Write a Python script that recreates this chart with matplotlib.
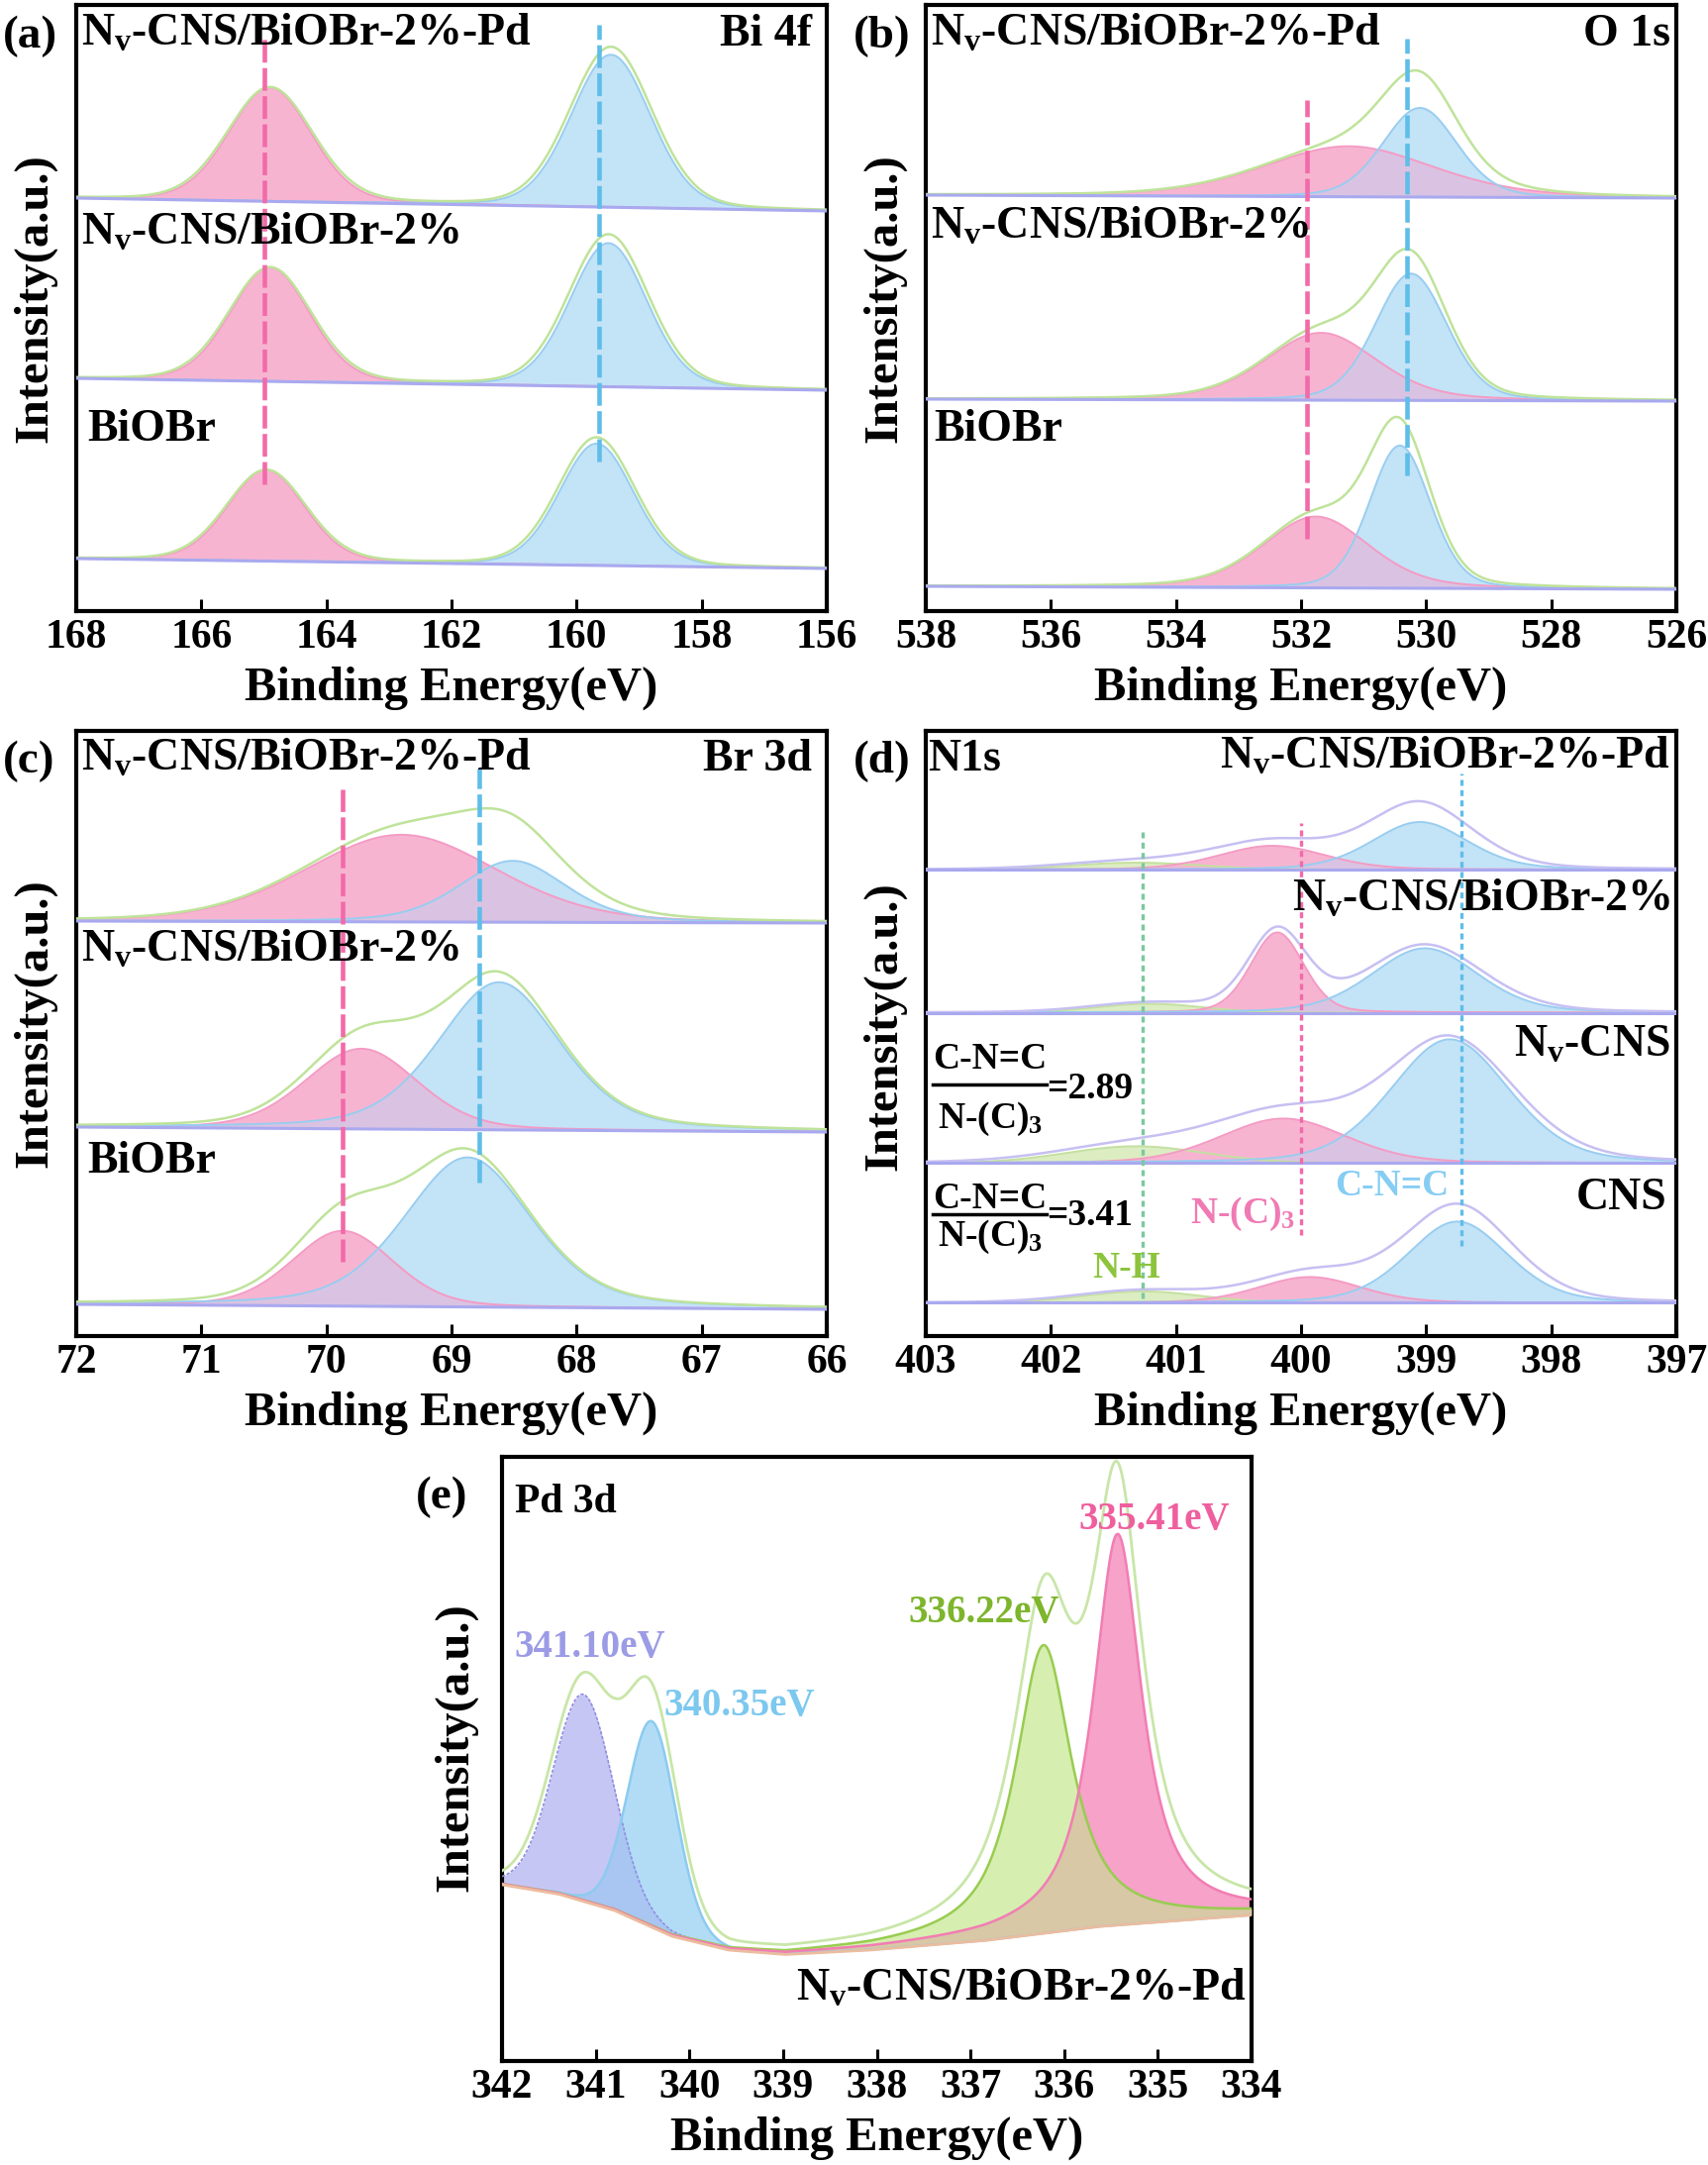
import numpy as np
import matplotlib
matplotlib.use("Agg")
import matplotlib.pyplot as plt
from matplotlib.lines import Line2D

plt.rcParams['font.family'] = ['Liberation Serif', 'DejaVu Serif']
plt.rcParams['font.weight'] = 'bold'
plt.rcParams['mathtext.fontset'] = 'custom'
plt.rcParams['mathtext.rm'] = 'Liberation Serif:bold'
plt.rcParams['mathtext.bf'] = 'Liberation Serif:bold'
plt.rcParams['mathtext.it'] = 'Liberation Serif:bold:italic'

W, H = 1725, 2186

S_PD = "N$_{\\rm v}$-CNS/BiOBr-2%-Pd"
S_2 = "N$_{\\rm v}$-CNS/BiOBr-2%"
S_NV = "N$_{\\rm v}$-CNS"

# ---------------- (a) Bi 4f ----------------
a_xlim = (168, 156)
a_ticks = [168, 166, 164, 162, 160, 158, 156]
a_base_left = [417, 235, 53]
a_base_right = [404, 223, 43]
a_pink_c = [164.90, 164.90, 164.96]
a_pink_h = [115, 115, 92]
a_pink_w = [1.55, 1.5, 1.45]
a_blue_c = [159.45, 159.49, 159.68]
a_blue_h = [154, 145, 123]
a_blue_w = [1.5, 1.45, 1.4]
a_env_gain = [[1.0, 1.05], [1.0, 1.06], [1.0, 1.05]]
a_guides = [(164.99, 128, 580, '#f26aa9'), (159.64, 151, 592, '#5fbde9')]

# ---------------- (b) O 1s ----------------
b_xlim = (538, 526)
b_ticks = [538, 536, 534, 532, 530, 528, 526]
b_base_left = [420, 214, 25]
b_base_right = [417, 212, 22]
b_pink_c = [531.24, 531.68, 531.76]
b_pink_h = [51, 68, 72]
b_pink_w = [3.2, 2.1, 2.0]
b_blue_c = [530.10, 530.24, 530.42]
b_blue_h = [90, 128, 144]
b_blue_w = [1.4, 1.35, 1.15]
b_env_gain = [[1.0, 1.02], [1.0, 1.03], [1.0, 1.04]]
b_guides = [(531.9, 73, 516, '#f26aa9'), (530.3, 137, 578, '#5fbde9')]

# ---------------- (c) Br 3d ----------------
c_xlim = (72, 66)
c_ticks = [72, 71, 70, 69, 68, 67, 66]
c_base_left = [419, 211, 32]
c_base_right = [417, 206, 27]
c_pink_c = [69.40, 69.72, 69.87]
c_pink_h = [88, 81, 76]
c_pink_w = [1.8, 1.05, 0.95]
c_blue_c = [68.51, 68.62, 68.87]
c_blue_h = [62, 149, 151]
c_blue_w = [1.0, 1.15, 1.2]
c_env_gain = [[1.02, 1.02], [1.03, 1.03], [1.02, 1.02]]
c_guides = [(69.87, 75, 552, '#f26aa9'), (68.78, 155, 573, '#5fbde9')]

# ---------------- (d) N 1s ----------------
d_xlim = (403, 397)
d_ticks = [403, 402, 401, 400, 399, 398, 397]
d_base_left = [471, 326.5, 174.6, 33.6]
d_base_right = [471, 326.5, 174.6, 33.6]
d_green_c = [401.32, 401.21, 401.32, 401.27]
d_green_h = [7, 9, 17, 11.5]
d_green_w = [1.2, 1.0, 1.3, 1.1]
d_pink_c = [400.23, 400.19, 400.14, 399.93]
d_pink_h = [24, 81, 45, 26]
d_pink_w = [1.0, 0.5, 1.18, 0.96]
d_blue_c = [399.05, 399.01, 398.81, 398.75]
d_blue_h = [48, 65, 125, 82]
d_blue_w = [0.9, 1.0, 1.11, 0.94]
d_env_gain = [[1.1, 1.12, 1.4], [1.0, 1.0, 1.05], [1.0, 1.05, 1.0], [1.0, 1.1, 1.2]]
d_guides = [(401.27, 38, 509, '#7cc8a0'), (400.0, 102, 518, '#f26aa9'), (398.72, 91, 568, '#5fbde9')]

# ---------------- (e) Pd 3d ----------------
e_xlim = (342, 334)
e_ticks = [342, 341, 340, 339, 338, 337, 336, 335, 334]
e_bg_e = [342.0, 341.4, 340.8, 340.19, 339.58, 338.98, 338.07, 336.85, 335.64, 334.0]
e_bg_y = [178, 168.6, 152, 126, 112, 107.5, 112, 121.6, 135.7, 147.4]
e_peak_c = [341.13, 340.40, 336.22, 335.43]
e_peak_h = [209, 208, 291, 395]
e_peak_w = [0.76, 0.61, 0.72, 0.62]
e_peak_eta = [0.1, 0.1, 0.9, 0.9]
e_peak_lab = ["341.10eV", "340.35eV", "336.22eV", "335.41eV"]
e_fill = ['#c6c6f4', '#b2dcf6', '#d6eeb0', '#f6a2c9']
e_edge = ['#8f8fe0', '#8ccbef', '#98cc50', '#f27db3']
e_lab_col = ['#9b9be6', '#7cc8ef', '#7db52c', '#ef5f9e']

PINK_FILL, PINK_EDGE = '#f7b4d1', '#f49bc4'
BLUE_FILL, BLUE_EDGE = '#c3e3f7', '#98cdf0'
GREEN_FILL, GREEN_EDGE = '#dcedc2', '#c4e0a0'
PB_OVER = '#dac3e2'
ENV_GREEN = '#bfe39a'
ENV_LAV = '#c6c0f2'
BASE_LAV = '#a9a9ef'


def pv(x, c, h, w, eta):
    u = (x - c) / w
    return h * (eta / (1 + 4 * u ** 2) + (1 - eta) * np.exp(-4 * np.log(2) * u ** 2))


def stack(ax, xlim, base_l, base_r, comps, gains, widen, env_color):
    x = np.linspace(xlim[0], xlim[1], 800)
    for i in range(len(base_l)):
        base = base_l[i] + (base_r[i] - base_l[i]) * (x - xlim[0]) / (xlim[1] - xlim[0])
        ys = []
        env = base.copy()
        for j, cp in enumerate(comps):
            ys.append(pv(x, cp['c'][i], cp['h'][i], cp['w'][i], cp['eta']))
            env = env + gains[i][j] * pv(x, cp['c'][i], cp['h'][i], cp['w'][i] * widen, cp['eta'])
        for y, cp in zip(ys, comps):
            ax.fill_between(x, base, base + y, color=cp['fill'], lw=0, zorder=2)
        if len(ys) >= 2:
            ax.fill_between(x, base, base + np.minimum(ys[-1], ys[-2]), color=PB_OVER, lw=0, zorder=3)
        for y, cp in zip(ys, comps):
            ax.plot(x, base + y, color=cp['edge'], lw=1.4, zorder=4)
        ax.plot(x, env, color=env_color, lw=1.8, zorder=5)
        ax.plot(x, base, color=BASE_LAV, lw=2.2, zorder=6)


def guides(ax, lines, ls, lw):
    for gx, y0, y1, col in lines:
        ax.plot([gx, gx], [y0, y1], color=col, ls=ls, lw=lw, zorder=7)


def style(ax, xlim, ticks, ytop, ylab_y):
    ax.set_xlim(xlim)
    ax.set_ylim(0, ytop)
    ax.set_xticks(ticks)
    ax.set_xticklabels([str(t) for t in ticks])
    ax.set_yticks([])
    ax.tick_params(axis='x', direction='in', length=9, width=2.2, labelsize=30, pad=6)
    for s in ax.spines.values():
        s.set_linewidth(3)
    ax.set_xlabel('Binding Energy(eV)', fontsize=35, fontweight='bold')
    ax.set_ylabel('Intensity(a.u.)', fontsize=35, fontweight='bold')
    ax.xaxis.set_label_coords(0.5, -0.091)
    ax.yaxis.set_label_coords(-0.026, ylab_y)


fig = plt.figure(figsize=(W / 100, H / 100), dpi=100)


def axes_px(x0, y0, x1, y1):
    return fig.add_axes([x0 / W, 1 - y1 / H, (x1 - x0) / W, (y1 - y0) / H])


def ftext(px, py, s, ha='left', size=33, color='black'):
    fig.text(px / W, 1 - py / H, s, ha=ha, va='baseline', fontsize=size,
             color=color, fontweight='bold')


# (a)
ax_a = axes_px(77, 5, 835, 617)
stack(ax_a, a_xlim, a_base_left, a_base_right,
      [dict(c=a_pink_c, h=a_pink_h, w=a_pink_w, eta=0.15, fill=PINK_FILL, edge=PINK_EDGE),
       dict(c=a_blue_c, h=a_blue_h, w=a_blue_w, eta=0.15, fill=BLUE_FILL, edge=BLUE_EDGE)],
      a_env_gain, 1.04, ENV_GREEN)
guides(ax_a, a_guides, (0, (5, 1.2)), 3.3)
style(ax_a, a_xlim, a_ticks, 612, 0.516)
ftext(3, 48, "(a)", size=34)
ftext(82, 46, S_PD)
ftext(820, 46, "Bi 4f", ha='right')
ftext(82, 247, S_2)
ftext(88, 445, "BiOBr")

# (b)
ax_b = axes_px(935, 5, 1693, 617)
stack(ax_b, b_xlim, b_base_left, b_base_right,
      [dict(c=b_pink_c, h=b_pink_h, w=b_pink_w, eta=0.3, fill=PINK_FILL, edge=PINK_EDGE),
       dict(c=b_blue_c, h=b_blue_h, w=b_blue_w, eta=0.2, fill=BLUE_FILL, edge=BLUE_EDGE)],
      b_env_gain, 1.0, ENV_GREEN)
guides(ax_b, b_guides, (0, (5, 1.2)), 3.3)
style(ax_b, b_xlim, b_ticks, 612, 0.516)
ftext(862, 48, "(b)", size=34)
ftext(940, 46, S_PD)
ftext(1687, 46, "O 1s", ha='right')
ftext(940, 241, S_2)
ftext(943, 445, "BiOBr")

# (c)
ax_c = axes_px(77, 738, 835, 1349)
stack(ax_c, c_xlim, c_base_left, c_base_right,
      [dict(c=c_pink_c, h=c_pink_h, w=c_pink_w, eta=0.2, fill=PINK_FILL, edge=PINK_EDGE),
       dict(c=c_blue_c, h=c_blue_h, w=c_blue_w, eta=0.35, fill=BLUE_FILL, edge=BLUE_EDGE)],
      c_env_gain, 1.0, ENV_GREEN)
guides(ax_c, c_guides, (0, (5, 1.2)), 3.3)
style(ax_c, c_xlim, c_ticks, 611, 0.517)
ftext(3, 780, "(c)", size=34)
ftext(82, 778, S_PD)
ftext(820, 778, "Br 3d", ha='right')
ftext(82, 971, S_2)
ftext(88, 1184, "BiOBr")

# (d)
ax_d = axes_px(935, 738, 1693, 1349)
stack(ax_d, d_xlim, d_base_left, d_base_right,
      [dict(c=d_green_c, h=d_green_h, w=d_green_w, eta=0.0, fill=GREEN_FILL, edge=GREEN_EDGE),
       dict(c=d_pink_c, h=d_pink_h, w=d_pink_w, eta=0.2, fill=PINK_FILL, edge=PINK_EDGE),
       dict(c=d_blue_c, h=d_blue_h, w=d_blue_w, eta=0.25, fill=BLUE_FILL, edge=BLUE_EDGE)],
      d_env_gain, 1.1, ENV_LAV)
guides(ax_d, d_guides, (0, (1.8, 1.3)), 2.4)
style(ax_d, d_xlim, d_ticks, 611, 0.512)
ftext(862, 780, "(d)", size=34)
ftext(937, 778, "N1s")
ftext(1687, 776, S_PD, ha='right')
ftext(1687, 920, S_2, ha='right')
ftext(1687, 1067, S_NV, ha='right')
ftext(1683, 1221, "CNS", ha='right')
for num_y, bar_y, den_y, eq_y, val in [(1079, 1095, 1139, 1109, "=2.89"),
                                       (1220, 1226, 1258, 1237, "=3.41")]:
    ftext(1000, num_y, "C-N=C", ha='center', size=27)
    fig.add_artist(Line2D([942 / W, 1057 / W], [1 - bar_y / H, 1 - bar_y / H],
                          transform=fig.transFigure, color='black', lw=2.5))
    ftext(1000, den_y, "N-(C)$_3$", ha='center', size=27)
    ftext(1057, eq_y, val, size=27)
ftext(1406, 1207, "C-N=C", ha='center', size=27, color='#86cdf3')
ftext(1255, 1235, "N-(C)$_3$", ha='center', size=27, color='#f07ab4')
ftext(1138, 1290, "N-H", ha='center', size=27, color='#8cc43c')

# (e)
ax_e = axes_px(507, 1471, 1264, 2081)
xe = np.linspace(e_xlim[0], e_xlim[1], 900)
bg = np.interp(xe, e_bg_e[::-1], e_bg_y[::-1])
pk = [pv(xe, c, h, w, eta) for c, h, w, eta in zip(e_peak_c, e_peak_h, e_peak_w, e_peak_eta)]
env = bg + sum(1.05 * pv(xe, c, h, w * 1.05, eta)
               for c, h, w, eta in zip(e_peak_c, e_peak_h, e_peak_w, e_peak_eta))
for y, fc in zip(pk, e_fill):
    ax_e.fill_between(xe, bg, bg + y, color=fc, lw=0, zorder=2)
ax_e.fill_between(xe, bg, bg + np.minimum(pk[0], pk[1]), color='#a9c5f2', lw=0, zorder=3)
ax_e.fill_between(xe, bg, bg + np.minimum(pk[2], pk[3]), color='#d8c8a6', lw=0, zorder=3)
ax_e.plot(xe, bg + pk[0], color=e_edge[0], lw=1.2, ls=(0, (2, 1)), zorder=4)
for y, ec in zip(pk[1:], e_edge[1:]):
    ax_e.plot(xe, bg + y, color=ec, lw=1.8, zorder=4)
ax_e.plot(xe, env, color='#c8e6a8', lw=2, zorder=5)
ax_e.plot(xe, bg, color='#ebbd9e', lw=2, zorder=6)
style(ax_e, e_xlim, e_ticks, 610, 0.52)
ax_e.yaxis.set_label_coords(-0.032, 0.52)
ftext(420, 1523, "(e)", size=34)
ftext(520, 1527, "Pd 3d", size=30)
for lab, cx, by, col in zip(e_peak_lab, [596, 747, 994, 1166], [1673, 1732, 1638, 1544], e_lab_col):
    ftext(cx, by, lab, ha='center', size=28, color=col)
ftext(1259, 2020, S_PD, ha='right')

fig.savefig("out.png", dpi=100)
